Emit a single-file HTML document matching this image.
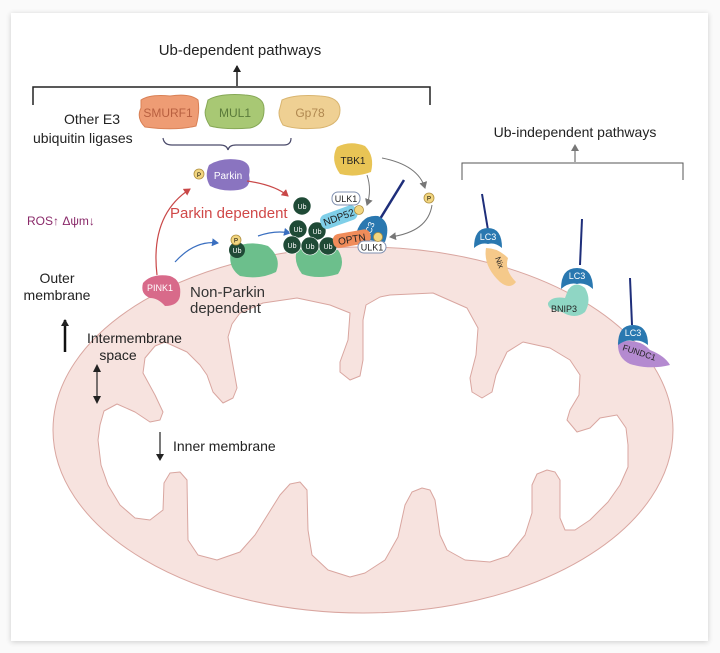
<!DOCTYPE html>
<html><head><meta charset="utf-8"><style>
html,body{margin:0;padding:0;background:#f4f4f4;width:720px;height:653px;overflow:hidden}
svg{display:block}
text{font-family:"Liberation Sans",sans-serif}
</style></head><body>
<svg width="720" height="653" viewBox="0 0 720 653" xmlns="http://www.w3.org/2000/svg">
<defs>
<filter id="sh" x="-5%" y="-5%" width="110%" height="110%"><feGaussianBlur stdDeviation="3"/></filter>
<marker id="ak" markerWidth="8" markerHeight="8" refX="6" refY="4" orient="auto" markerUnits="userSpaceOnUse"><path d="M0,0 L7,4 L0,8 z" fill="#222"/></marker>
<marker id="ar" markerWidth="8" markerHeight="8" refX="6" refY="4" orient="auto" markerUnits="userSpaceOnUse"><path d="M0,0 L7,4 L0,8 z" fill="#c94848"/></marker>
<marker id="ab" markerWidth="8" markerHeight="8" refX="6" refY="4" orient="auto" markerUnits="userSpaceOnUse"><path d="M0,0 L7,4 L0,8 z" fill="#3a6fc0"/></marker>
<marker id="ag" markerWidth="8" markerHeight="8" refX="6" refY="4" orient="auto" markerUnits="userSpaceOnUse"><path d="M0,0 L7,4 L0,8 z" fill="#777"/></marker>
</defs>
<rect x="0" y="0" width="720" height="653" fill="#fafafa"/>
<rect x="11" y="14" width="697" height="628" fill="#000" opacity="0.18" filter="url(#sh)"/>
<rect x="11" y="13" width="697" height="628" fill="#fff"/>

<!-- mitochondrion -->
<ellipse cx="363" cy="430" rx="310" ry="183" fill="#f7e3df" stroke="#d9a6a0" stroke-width="1"/>
<path fill="#fff" stroke="#d9a6a0" stroke-width="1" stroke-linejoin="round" d="
M98,440 L100,425 L104,411 L117,404 L135,412 L150,422 L160,420 L163,412 L155,395 L143,373 L145,358 L155,346 L165,342 L187,352 L200,365 L207,375 L213,392 L223,403 L233,398 L237,388 L232,360 L228,337 L232,324 L240,313 L263,303 L297,298 L330,305 L350,313 L348,340 L340,362 L340,372 L350,380 L360,376 L363,360 L363,320 L366,305 L380,297 L390,295 L433,293 L467,308 L478,328 L476,355 L470,378 L472,392 L482,398 L492,392 L496,375 L507,352 L523,342 L550,348 L570,360 L580,375 L579,395 L570,410 L567,420 L577,432 L590,428 L600,418 L617,415 L626,428 L628,445 L628,467 L620,485 L608,502 L590,520 L575,530 L565,530 L560,518 L560,480 L555,472 L547,470 L537,474 L532,485 L532,513 L525,535 L508,556 L490,562 L465,560 L447,550 L440,535 L435,500 L430,490 L422,488 L412,492 L405,505 L398,537 L385,560 L365,573 L350,577 L328,570 L312,555 L308,530 L307,490 L300,482 L290,484 L280,495 L255,535 L240,552 L217,560 L198,555 L188,540 L187,480 L180,472 L170,473 L164,483 L163,510 L150,520 L135,518 L120,505 L108,485 L101,465 Z"/>

<!-- top bracket -->
<text x="240" y="55" font-size="15" text-anchor="middle" fill="#222">Ub-dependent pathways</text>
<line x1="237" y1="86" x2="237" y2="66" stroke="#222" stroke-width="1.5" marker-end="url(#ak)"/>
<path d="M33,105 V87 H430 V105" fill="none" stroke="#222" stroke-width="1.5"/>
<path d="M141,100 Q150,94 170,96 Q190,93 198,100 Q200,112 196,126 Q175,131 145,127 Q136,118 141,108 z" fill="#ee9c74" stroke="#d98055"/>
<text x="168" y="117" font-size="12" text-anchor="middle" fill="#b86040">SMURF1</text>
<path d="M208,100 Q220,93 245,95 Q265,96 264,110 Q264,125 250,128 Q225,130 210,126 Q203,115 206,108 z" fill="#a8c874" stroke="#86a856"/>
<text x="235" y="117" font-size="12" text-anchor="middle" fill="#5a7a3a">MUL1</text>
<path d="M282,100 Q295,94 320,96 Q340,97 340,110 Q340,125 320,128 Q295,130 283,125 Q277,115 280,108 z" fill="#efd093" stroke="#d9b570"/>
<text x="310" y="117" font-size="12" text-anchor="middle" fill="#b08850">Gp78</text>
<text x="92" y="124" font-size="14" text-anchor="middle" fill="#222">Other E3</text>
<text x="33" y="143" font-size="14" fill="#222">ubiquitin ligases</text>
<path d="M163,138 Q164,145 172,145 H220 Q227,145 228,150 Q229,145 236,145 H284 Q291,145 291,138" fill="none" stroke="#4a4a6a" stroke-width="1.2"/>

<!-- Parkin -->
<path d="M209,165 Q222,157 240,160 Q252,163 249,175 Q252,188 238,190 Q222,192 210,186 Q204,176 209,165 z" fill="#8a74c0"/>
<text x="228" y="179" font-size="10" text-anchor="middle" fill="#fff">Parkin</text>
<circle cx="199" cy="174" r="5" fill="#f2d680" stroke="#b09040" stroke-width="0.8"/><text x="199" y="177" font-size="6" text-anchor="middle">P</text>

<text x="27" y="225" font-size="12" fill="#8a2a6a">ROS↑   Δψm↓</text>
<text x="170" y="218" font-size="15" fill="#d04848">Parkin dependent</text>
<path d="M157,275 Q150,215 190,189" fill="none" stroke="#c94848" stroke-width="1.2" marker-end="url(#ar)"/>
<path d="M247,181 Q275,185 288,196" fill="none" stroke="#c94848" stroke-width="1.2" marker-end="url(#ar)"/>
<path d="M175,262 Q195,240 218,243" fill="none" stroke="#3a6fc0" stroke-width="1.2" marker-end="url(#ab)"/>
<path d="M258,236 Q275,230 290,233" fill="none" stroke="#3a6fc0" stroke-width="1.2" marker-end="url(#ab)"/>

<!-- green proteins -->
<path d="M232,248 Q250,240 268,246 Q282,258 276,272 Q260,280 240,276 Q226,266 232,248 z" fill="#6cbf8c"/>
<circle cx="237" cy="250" r="8" fill="#1f4a36"/><text x="237" y="253" font-size="7" text-anchor="middle" fill="#fff">Ub</text>
<circle cx="236" cy="240" r="5" fill="#f2d680" stroke="#b09040" stroke-width="0.8"/><text x="236" y="242.5" font-size="6" text-anchor="middle">P</text>
<path d="M297,250 Q320,245 338,250 Q346,262 338,274 Q318,280 302,274 Q293,262 297,250 z" fill="#6cbf8c"/>
<g fill="#1f4a36" stroke="#fff" stroke-width="0.6">
<circle cx="302" cy="206" r="9"/><circle cx="298" cy="229" r="9"/><circle cx="317" cy="231" r="9"/><circle cx="292" cy="245" r="9"/><circle cx="310" cy="246" r="9"/><circle cx="328" cy="246" r="9"/></g>
<g font-size="7" fill="#fff" text-anchor="middle"><text x="302" y="209">Ub</text><text x="298" y="232">Ub</text><text x="317" y="234">Ub</text><text x="292" y="248">Ub</text><text x="310" y="249">Ub</text><text x="328" y="249">Ub</text></g>

<!-- receptor complex -->
<line x1="372" y1="232" x2="404" y2="180" stroke="#1e2e7a" stroke-width="2.5"/>
<g transform="rotate(-20 338 218)"><rect x="320" y="210" width="38" height="15" rx="6" fill="#7fcfe8"/><text x="339" y="221" font-size="10" text-anchor="middle" fill="#222">NDP52</text></g>
<rect x="332" y="192" width="28" height="13" rx="6" fill="#fff" stroke="#8090b0"/><text x="346" y="202" font-size="9" text-anchor="middle" fill="#222">ULK1</text>
<path d="M355,238 Q360,214 378,216 Q392,222 385,242 z" fill="#2a78b0"/><text x="372" y="231" font-size="9" fill="#fff" transform="rotate(-70 372 231)" text-anchor="middle">LC3</text>
<g transform="rotate(-10 350 240)"><rect x="333" y="232" width="38" height="14" rx="6" fill="#f08c5a"/><text x="352" y="243" font-size="10" text-anchor="middle" fill="#222">OPTN</text></g>
<rect x="358" y="241" width="28" height="12" rx="6" fill="#fff" stroke="#8090b0"/><text x="372" y="250.5" font-size="9" text-anchor="middle" fill="#222">ULK1</text>
<circle cx="359" cy="210" r="4.5" fill="#f2d680" stroke="#b09040" stroke-width="0.8"/>
<circle cx="378" cy="237" r="4.5" fill="#f2d680" stroke="#b09040" stroke-width="0.8"/>
<path d="M337,147 Q350,140 365,146 Q375,156 371,172 Q355,178 340,174 Q330,160 337,147 z" fill="#e8c455"/>
<text x="353" y="164" font-size="10" text-anchor="middle" fill="#222">TBK1</text>
<path d="M367,175 Q372,190 367,205" fill="none" stroke="#777" stroke-width="1" marker-end="url(#ag)"/>
<path d="M382,158 Q418,165 425,188" fill="none" stroke="#777" stroke-width="1" marker-end="url(#ag)"/>
<circle cx="429" cy="198" r="5" fill="#f2d680" stroke="#b09040" stroke-width="0.8"/><text x="429" y="200.5" font-size="6" text-anchor="middle">P</text>
<path d="M432,205 Q428,232 390,237" fill="none" stroke="#777" stroke-width="1" marker-end="url(#ag)"/>

<!-- PINK1 -->
<path d="M143,283 Q152,273 170,276 Q182,280 180,296 Q178,306 165,306 Q158,298 150,298 Q140,294 143,283 z" fill="#d86a8a"/>
<text x="160" y="291" font-size="9" text-anchor="middle" fill="#fff">PINK1</text>
<text x="190" y="297" font-size="15" fill="#333">Non-Parkin</text>
<text x="190" y="313" font-size="15" fill="#333">dependent</text>

<!-- labels left -->
<text x="57" y="283" font-size="14" text-anchor="middle" fill="#222">Outer</text>
<text x="57" y="300" font-size="14" text-anchor="middle" fill="#222">membrane</text>
<line x1="65" y1="352" x2="65" y2="320" stroke="#111" stroke-width="2.5" marker-end="url(#ak)"/>
<text x="87" y="343" font-size="14" fill="#222">Intermembrane</text>
<text x="118" y="360" font-size="14" text-anchor="middle" fill="#222">space</text>
<line x1="97" y1="370" x2="97" y2="398" stroke="#222" stroke-width="1.2"/>
<path d="M93,372 L97,364 L101,372 z M93,396 L97,404 L101,396 z" fill="#222"/>
<line x1="160" y1="432" x2="160" y2="460" stroke="#222" stroke-width="1.2" marker-end="url(#ak)"/>
<text x="173" y="451" font-size="14" fill="#222">Inner membrane</text>

<!-- right bracket -->
<text x="575" y="137" font-size="14" text-anchor="middle" fill="#222">Ub-independent pathways</text>
<line x1="575" y1="162" x2="575" y2="145" stroke="#555" stroke-width="1" marker-end="url(#ag)"/>
<path d="M462,180 V163 H683 V180" fill="none" stroke="#555" stroke-width="1"/>

<!-- Nix -->
<line x1="482" y1="194" x2="488" y2="230" stroke="#1e2e7a" stroke-width="2"/>
<path d="M486,248 Q483,266 500,282 Q510,290 516,282 Q504,270 508,258 Q498,248 486,248 z" fill="#f5c98a"/>
<text x="495" y="258" font-size="8" fill="#222" transform="rotate(70 495 258)">Nix</text>
<path d="M474,248 Q474,228 488,228 Q502,228 502,248 Q495,242 488,244 Q481,242 474,248 z" fill="#2a78b0"/>
<text x="488" y="240" font-size="9" text-anchor="middle" fill="#fff">LC3</text>
<!-- BNIP3 -->
<line x1="582" y1="219" x2="580" y2="265" stroke="#1e2e7a" stroke-width="2"/>
<path d="M568,290 Q575,280 585,288 Q592,300 585,312 Q575,320 562,312 Q547,310 548,303 Q552,296 565,298 z" fill="#8fd6c4"/>
<text x="564" y="312" font-size="9" text-anchor="middle" fill="#222">BNIP3</text>
<path d="M561,289 Q561,268 577,268 Q593,268 593,289 Q585,282 577,284 Q569,282 561,289 z" fill="#2a78b0"/>
<text x="577" y="279" font-size="9" text-anchor="middle" fill="#fff">LC3</text>
<!-- FUNDC1 -->
<line x1="630" y1="278" x2="632" y2="325" stroke="#1e2e7a" stroke-width="2"/>
<path d="M618,342 Q640,338 650,350 Q665,356 670,365 Q650,370 630,364 Q617,358 618,342 z" fill="#b48ad0"/>
<text x="622" y="350" font-size="8.5" fill="#222" transform="rotate(18 622 350)">FUNDC1</text>
<path d="M618,345 Q618,325 633,325 Q648,325 648,345 Q640,339 633,341 Q626,339 618,345 z" fill="#2a78b0"/>
<text x="633" y="336" font-size="9" text-anchor="middle" fill="#fff">LC3</text>
</svg>
</body></html>
